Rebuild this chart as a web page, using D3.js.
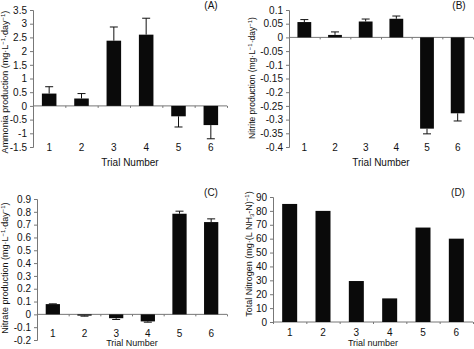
<!DOCTYPE html>
<html><head><meta charset="utf-8">
<script src="https://cdn.jsdelivr.net/npm/d3@7"></script>
<style>body{margin:0;background:#fff}svg{display:block;font-family:"Liberation Sans",Arial,sans-serif}</style>
</head><body><svg id="c" width="474" height="349"></svg>
<script>
const trials = ["1","2","3","4","5","6"];
const ammonia = [0.45, 0.27, 2.38, 2.6, -0.38, -0.7];
const ammoniaErr = [0.25, 0.18, 0.5, 0.6, 0.39, 0.5];
const nitrite = [0.056, 0.009, 0.058, 0.068, -0.333, -0.277];
const nitriteErr = [0.009, 0.011, 0.009, 0.01, 0.019, 0.028];
const nitrate = [0.08, -0.01, -0.03, -0.055, 0.785, 0.72];
const nitrateErr = [0.002, 0.004, 0.01, 0.006, 0.02, 0.025];
const totalN = [85, 80, 29.5, 17, 68, 60];
const ammoniaTicks = [-1.5,-1,-0.5,0,0.5,1,1.5,2,2.5,3,3.5];
const nitriteTicks = [-0.4,-0.35,-0.3,-0.25,-0.2,-0.15,-0.1,-0.05,0,0.05,0.1];
const nitrateTicks = [-0.2,-0.1,0,0.1,0.2,0.3,0.4,0.5,0.6,0.7,0.8,0.9];
const totalTicks = [0,10,20,30,40,50,60,70,80,90];

const svg = d3.select("#c");
const axisColor = "#777";

function panel(o){
  const g = svg.append("g");
  const x = d3.scaleBand().domain(trials).range([o.x0, o.x1]).paddingInner(0.55).paddingOuter(0.275);
  const y = d3.scaleLinear().domain(o.domain).range([o.yb, o.yt]);
  const ya = g.append("g").attr("transform",`translate(${o.x0},0)`)
    .call(d3.axisLeft(y).tickValues(o.ticks).tickSize(3).tickPadding(3).tickFormat(d=>String(+d.toFixed(2))));
  ya.selectAll("path,line").attr("stroke",axisColor);
  ya.selectAll("text").attr("font-size",10).attr("fill","#111").attr("font-family","Liberation Sans, Arial, sans-serif");
  const xl = d3.scaleLinear().domain([0,6]).range([o.x0, o.x1]);
  const xa = g.append("g").attr("transform",`translate(0,${y(0)})`)
    .call(d3.axisBottom(xl).ticks(6).tickSize(2).tickFormat(""));
  xa.selectAll("path,line").attr("stroke",axisColor);
  xa.select(".domain").attr("d",`M${o.x0},0H${o.x1}`);
  g.selectAll("rect.bar").data(o.values).join("rect")
    .attr("x",(d,i)=>x(trials[i])).attr("width",x.bandwidth())
    .attr("y",d=>Math.min(y(d),y(0))).attr("height",d=>Math.abs(y(d)-y(0)))
    .attr("fill","#0a0a0a");
  if(o.err){
    o.values.forEach((v,i)=>{
      const cx = x(trials[i])+x.bandwidth()/2;
      const e = v>=0 ? v+o.err[i] : v-o.err[i];
      g.append("line").attr("x1",cx).attr("x2",cx).attr("y1",y(v)).attr("y2",y(e)).attr("stroke","#111").attr("stroke-width",1);
      g.append("line").attr("x1",cx-4).attr("x2",cx+4).attr("y1",y(e)).attr("y2",y(e)).attr("stroke","#111").attr("stroke-width",1);
    });
  }
  trials.forEach(t=>{
    g.append("text").attr("x",x(t)+x.bandwidth()/2).attr("y",o.labY).attr("text-anchor","middle")
      .attr("font-size",10).attr("fill","#111").text(t);
  });
  g.append("text").attr("x",(o.x0+o.x1)/2).attr("y",o.titleY).attr("text-anchor","middle")
    .attr("font-size",o.titleSize||10).attr("fill","#111").text(o.xTitle);
  const yt = g.append("text").attr("transform",`translate(${o.ytx},${o.ytc}) rotate(-90)`)
    .attr("text-anchor","middle").attr("font-size",o.ytSize||9).attr("fill","#111");
  o.yTitle(yt);
  g.append("text").attr("x",o.lx).attr("y",o.ly).attr("text-anchor","middle").attr("font-size",10).attr("fill","#111").text(o.letter);
}

function rateTitle(name){
  return t=>{
    t.append("tspan").text(name+" production (mg·L");
    t.append("tspan").attr("dy",-3).attr("font-size",6).text("−1");
    t.append("tspan").attr("dy",3).text("·day");
    t.append("tspan").attr("dy",-3).attr("font-size",6).text("−1");
    t.append("tspan").attr("dy",3).text(")");
  };
}

panel({x0:33,x1:227,yb:147,yt:10,domain:[-1.5,3.5],ticks:ammoniaTicks,values:ammonia,err:ammoniaErr,
  labY:151,titleY:166,xTitle:"Trial Number",ytx:8,ytc:82,yTitle:rateTitle("Ammonia"),lx:211,ly:9,letter:"(A)"});
panel({x0:289,x1:473,yb:147,yt:10,domain:[-0.4,0.1],ticks:nitriteTicks,values:nitrite,err:nitriteErr,
  labY:151,titleY:166,xTitle:"Trial Number",ytx:255,ytc:78,ytSize:8.5,yTitle:rateTitle("Nitrite"),lx:459,ly:9,letter:"(B)"});
panel({x0:37,x1:227,yb:340,yt:199,domain:[-0.2,0.9],ticks:nitrateTicks,values:nitrate,err:nitrateErr,
  labY:337,titleY:346,titleSize:9,xTitle:"Trial Number",ytx:8,ytc:268,yTitle:rateTitle("Nitrate"),lx:211,ly:196,letter:"(C)"});
panel({x0:273,x1:473,yb:322,yt:197,domain:[0,90],ticks:totalTicks,values:totalN,err:null,
  labY:336,titleY:346,titleSize:9,xTitle:"Trial number",ytx:252,ytc:254,yTitle:t=>{
    t.append("tspan").text("Total Nitrogen (mg·(L NH");
    t.append("tspan").attr("dy",2).attr("font-size",6).text("3");
    t.append("tspan").attr("dy",-2).text("-N)");
    t.append("tspan").attr("dy",-3).attr("font-size",6).text("−1");
    t.append("tspan").attr("dy",3).text(")");
  },lx:458,ly:196,letter:"(D)"});
</script></body></html>
